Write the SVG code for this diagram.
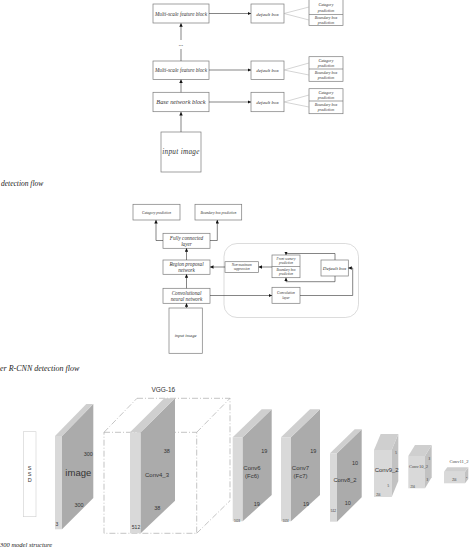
<svg xmlns="http://www.w3.org/2000/svg" width="474" height="548" viewBox="0 0 474 548">
<style>
.bx{fill:#fff;stroke:#7a7a7a;stroke-width:0.7}
.ln{fill:none;stroke:#333;stroke-width:0.6}
.lg{fill:none;stroke:#aaa;stroke-width:0.5}
.it{font-family:"Liberation Serif",serif;font-style:italic;fill:#333;text-anchor:middle}
.cap{font-family:"Liberation Serif",serif;font-style:italic;fill:#222}
.sn{font-family:"Liberation Sans",Arial,sans-serif;fill:#333;text-anchor:middle}
.fr{fill:#d9d9d9}
.sd{fill:#ababab}
.tp{fill:#cfcfcf}
.sd2{fill:#c2c2c2}
.dash{fill:none;stroke:#aaa;stroke-width:0.7;stroke-dasharray:6 2 1 2}
</style>
<defs>
<marker id="ah" viewBox="0 0 6 6" refX="6" refY="3" markerWidth="3.5" markerHeight="3.5" orient="auto" markerUnits="userSpaceOnUse">
<path d="M0,0 L6,3 L0,6 z" fill="#111"/>
</marker>
</defs>
<rect width="474" height="548" fill="#fff"/>

<!-- ===== Section 1 ===== -->
<g id="ms1"><rect class="bx" x="153" y="4" width="56" height="19"/><text class="it" x="181" y="15.5" font-size="5.2">Multi-scale feature block</text></g>
<g id="db1"><rect class="bx" x="251" y="4" width="33" height="19"/><text class="it" x="267.5" y="15.5" font-size="5">default box</text></g>
<g id="pp1"><rect class="bx" x="309" y="-1" width="34" height="26.5"/><line class="bx" x1="309" y1="14.5" x2="343" y2="14.5"/>
<text class="it" x="326" y="6" font-size="4">Category</text><text class="it" x="326" y="11.5" font-size="4">prediction</text>
<text class="it" x="326" y="19" font-size="4">Boundary box</text><text class="it" x="326" y="24" font-size="4">prediction</text></g>

<g id="ms2"><rect class="bx" x="153" y="61" width="56" height="18.5"/><text class="it" x="181" y="72" font-size="5.2">Multi-scale feature block</text></g>
<g id="db2"><rect class="bx" x="251" y="61" width="33" height="18.5"/><text class="it" x="267.5" y="72" font-size="5">default box</text></g>
<g id="pp2"><rect class="bx" x="309" y="56.7" width="34" height="24.6"/><line class="bx" x1="309" y1="69" x2="343" y2="69"/>
<text class="it" x="326" y="62" font-size="4">Category</text><text class="it" x="326" y="67.3" font-size="4">prediction</text>
<text class="it" x="326" y="74" font-size="4">Boundary box</text><text class="it" x="326" y="79.3" font-size="4">prediction</text></g>

<g id="bn"><rect class="bx" x="153" y="92.3" width="56" height="19.4"/><text class="it" x="181" y="104.3" font-size="6.3">Base network block</text></g>
<g id="db3"><rect class="bx" x="251" y="92.3" width="33" height="19.4"/><text class="it" x="267.5" y="104" font-size="5">default box</text></g>
<g id="pp3"><rect class="bx" x="309" y="88.7" width="34" height="25"/><line class="bx" x1="309" y1="101" x2="343" y2="101"/>
<text class="it" x="326" y="94" font-size="4">Category</text><text class="it" x="326" y="99.3" font-size="4">prediction</text>
<text class="it" x="326" y="106" font-size="4">Boundary box</text><text class="it" x="326" y="111.3" font-size="4">prediction</text></g>

<g id="in1"><rect class="bx" x="161" y="132" width="40" height="40"/><text class="it" x="181" y="154" font-size="7.2" letter-spacing="0.3">input  image</text></g>

<g id="conn1">
<line class="ln" x1="181" y1="132" x2="181" y2="112" marker-end="url(#ah)"/>
<line class="ln" x1="181" y1="92.3" x2="181" y2="79.5" marker-end="url(#ah)"/>
<line class="ln" x1="181" y1="61" x2="181" y2="49"/>
<line class="ln" x1="181" y1="40" x2="181" y2="23.3" marker-end="url(#ah)"/>
<text class="it" x="181" y="45.5" font-size="6">...</text>
<line class="ln" x1="209" y1="13.5" x2="251" y2="13.5" marker-end="url(#ah)"/>
<line class="ln" x1="209" y1="70" x2="251" y2="70" marker-end="url(#ah)"/>
<line class="ln" x1="209" y1="102" x2="251" y2="102" marker-end="url(#ah)"/>
<path class="lg" d="M284,13.5 L309,7 M284,13.5 L309,20"/>
<path class="lg" d="M284,70 L309,63 M284,70 L309,75"/>
<path class="lg" d="M284,102 L309,95 M284,102 L309,107"/>
</g>
<text class="cap" x="1" y="186" font-size="7.5">detection flow</text>

<!-- ===== Section 2 ===== -->
<g id="region"><rect x="224" y="243.5" width="134.5" height="74" rx="13" fill="none" stroke="#c4c4c4" stroke-width="0.6"/></g>
<g id="cat2"><rect class="bx" x="133" y="204.3" width="47" height="15.7"/><text class="it" x="156.5" y="213.5" font-size="3.6">Category prediction</text></g>
<g id="bbp2"><rect class="bx" x="195" y="204.3" width="46.7" height="15.7"/><text class="it" x="218.3" y="213.5" font-size="3.6">Boundary box prediction</text></g>
<g id="fc"><rect class="bx" x="163" y="233.3" width="47" height="15"/><text class="it" x="186.5" y="239.8" font-size="5.2">Fully connected</text><text class="it" x="186.5" y="246" font-size="5.2">layer</text></g>
<g id="rpn"><rect class="bx" x="163" y="260" width="47" height="14.3"/><text class="it" x="186.5" y="266" font-size="5.2">Region proposal</text><text class="it" x="186.5" y="272.2" font-size="5.2">network</text></g>
<g id="cnn"><rect class="bx" x="163" y="288.3" width="47" height="15"/><text class="it" x="186.5" y="294.8" font-size="5.2">Convolutional</text><text class="it" x="186.5" y="301" font-size="5.2">neural network</text></g>
<g id="nms"><rect class="bx" x="225" y="261.7" width="33.5" height="10.8"/><text class="it" x="241.7" y="266" font-size="3.4">Non-maximum</text><text class="it" x="241.7" y="270.4" font-size="3.4">suppression</text></g>
<g id="pair"><rect class="bx" x="272" y="255" width="28" height="22.7"/><line class="bx" x1="272" y1="266.5" x2="300" y2="266.5"/>
<text class="it" x="286" y="259.8" font-size="3.4">Front scenery</text><text class="it" x="286" y="264.2" font-size="3.4">prediction</text>
<text class="it" x="286" y="271" font-size="3.4">Boundary box</text><text class="it" x="286" y="275.4" font-size="3.4">prediction</text></g>
<g id="dflt"><rect class="bx" x="321" y="260" width="27.3" height="16"/><text class="it" x="334.6" y="269.8" font-size="5">Default box</text></g>
<g id="cl"><rect class="bx" x="272" y="287.3" width="28" height="16"/><text class="it" x="286" y="294" font-size="3.6">Convolution</text><text class="it" x="286" y="299" font-size="3.6">layer</text></g>
<g id="in2"><rect class="bx" x="169" y="308" width="33.3" height="45.3"/><text class="it" x="185.6" y="336.5" font-size="4.6">input  image</text></g>

<g id="conn2">
<path class="ln" d="M163,240.5 H156 V220" marker-end="url(#ah)"/>
<path class="ln" d="M210,240.5 H217.3 V220" marker-end="url(#ah)"/>
<line class="ln" x1="186.5" y1="260" x2="186.5" y2="248.3" marker-end="url(#ah)"/>
<line class="ln" x1="186.5" y1="288.3" x2="186.5" y2="274.3" marker-end="url(#ah)"/>
<line class="ln" x1="186.5" y1="308" x2="186.5" y2="303.3" marker-end="url(#ah)"/>
<line class="ln" x1="225" y1="267" x2="210" y2="267" marker-end="url(#ah)"/>
<line class="ln" x1="272" y1="267" x2="258.5" y2="267" marker-end="url(#ah)"/>
<path class="ln" d="M335,260 V253.5 H286 V255" marker-end="url(#ah)"/>
<path class="ln" d="M335,276 V281.7 H286 V277.7" marker-end="url(#ah)"/>
<line class="ln" x1="210" y1="295.5" x2="272" y2="295.5" marker-end="url(#ah)"/>
<path class="ln" d="M300,295.5 H352.7 V268 H348.3" marker-end="url(#ah)"/>
</g>
<text class="cap" x="0" y="371" font-size="8">er R-CNN detection flow</text>

<!-- ===== Section 3 ===== -->
<text class="sn" x="163.3" y="392" font-size="6.5" fill="#555">VGG-16</text>
<g id="ssd"><rect x="23.3" y="431.7" width="12.7" height="85" fill="#fff" stroke="#cfcfcf" stroke-width="0.6"/>
<text class="sn" x="29.7" y="469.5" font-size="5.5">S</text><text class="sn" x="29.7" y="475.5" font-size="5.5">S</text><text class="sn" x="29.7" y="481.5" font-size="5.5">D</text></g>

<g id="image">
<rect class="fr" x="55" y="436" width="7" height="93.3"/>
<polygon class="sd" points="62,436 93.3,404 93.3,498 62,529.3"/>
<polygon class="tp" points="55,436 62,436 93.3,404 86.3,404"/>
<text class="sn" x="88.3" y="456" font-size="5.5">300</text>
<text class="sn" x="78.3" y="476" font-size="9.5">image</text>
<text class="sn" x="79" y="506.5" font-size="5.5">300</text>
<text class="sn" x="57" y="526" font-size="5">3</text>
</g>

<g id="vgg">
<rect class="dash" x="104" y="432.3" width="92.7" height="101"/>
<path class="dash" d="M137,398.3 H230 V500.7 M196.7,432.3 L230,398.3 M196.7,533.3 L230,500.7 M104,432.3 L137,398.3"/>
</g>
<g id="conv4_3">
<rect class="fr" x="130" y="432.3" width="10.7" height="101"/>
<polygon class="sd" points="140.7,432.3 175,398.3 175,500.7 140.7,533.3"/>
<polygon class="tp" points="130,432.3 140.7,432.3 175,398.3 164.3,398.3"/>
<text class="sn" x="166.7" y="453" font-size="5.5">38</text>
<text class="sn" x="157" y="477" font-size="6">Conv4_3</text>
<text class="sn" x="157.3" y="510" font-size="5.5">38</text>
<text class="sn" x="136" y="529" font-size="5">512</text>
</g>

<g id="conv6">
<rect class="fr" x="232.7" y="437.3" width="10" height="84"/>
<polygon class="sd" points="242.7,437.3 271.7,409.3 271.7,495 242.7,521.3"/>
<polygon class="tp" points="232.7,437.3 242.7,437.3 271.7,409.3 261.7,409.3"/>
<text class="sn" x="264.3" y="453" font-size="5.5">19</text>
<text class="sn" x="252" y="469.5" font-size="6">Conv6</text>
<text class="sn" x="252" y="477.5" font-size="6">(Fc6)</text>
<text class="sn" x="256.7" y="505.5" font-size="5.5">19</text>
<text class="sn" x="237" y="522" font-size="2.8">1024</text>
</g>

<g id="conv7">
<rect class="fr" x="281" y="437.3" width="10" height="84"/>
<polygon class="sd" points="291,437.3 320,409.3 320,495 291,521.3"/>
<polygon class="tp" points="281,437.3 291,437.3 320,409.3 310,409.3"/>
<text class="sn" x="313.3" y="453" font-size="5.5">19</text>
<text class="sn" x="300.5" y="469.5" font-size="6">Conv7</text>
<text class="sn" x="300.5" y="477.5" font-size="6">(Fc7)</text>
<text class="sn" x="306" y="505.5" font-size="5.5">19</text>
<text class="sn" x="285.5" y="522" font-size="2.8">1024</text>
</g>

<g id="conv8_2">
<rect class="fr" x="330" y="453.3" width="7" height="68.4"/>
<polygon class="sd" points="337,453.3 361.7,429.3 361.7,497.3 337,521.7"/>
<polygon class="tp" points="330,453.3 337,453.3 361.7,429.3 354.7,429.3"/>
<text class="sn" x="355" y="464.5" font-size="5.5">10</text>
<text class="sn" x="345" y="482" font-size="5.8">Conv8_2</text>
<text class="sn" x="347.7" y="505" font-size="5.5">10</text>
<text class="sn" x="333.3" y="512" font-size="3.2">512</text>
</g>

<g id="conv9_2">
<rect class="fr" x="374" y="450" width="17.7" height="47"/>
<polygon class="sd2" points="391.7,450 398.3,434 398.3,481 391.7,497"/>
<polygon class="tp" points="374,450 391.7,450 398.3,434 380.7,434"/>
<text class="sn" x="386.7" y="472.3" font-size="6">Conv9_2</text>
<text class="sn" x="396" y="454" font-size="2.8">5</text>
<text class="sn" x="388.3" y="487" font-size="2.8">5</text>
<text class="sn" x="378.3" y="496" font-size="2.6">256</text>
</g>

<g id="conv10_2">
<rect class="fr" x="408.3" y="456" width="16.7" height="32.3"/>
<polygon class="sd2" points="425,456 431.7,445 431.7,477.3 425,488.3"/>
<polygon class="tp" points="408.3,456 425,456 431.7,445 415,445"/>
<text x="418.5" y="468" font-size="4.6" font-family="Liberation Serif,serif" fill="#444" text-anchor="middle">Conv10_2</text>
<text class="sn" x="429.3" y="459.5" font-size="2.8">3</text>
<text class="sn" x="427.3" y="480.5" font-size="2.8">3</text>
<text class="sn" x="412.7" y="487.5" font-size="2.6">256</text>
</g>

<g id="conv11_2">
<rect class="fr" x="444" y="471.7" width="21" height="11.6"/>
<polygon class="sd2" points="465,471.7 468.3,467.3 468.3,479 465,483.3"/>
<polygon class="tp" points="444,471.7 465,471.7 468.3,467.3 447.3,467.3"/>
<text x="459" y="463" font-size="4.6" font-family="Liberation Serif,serif" fill="#444" text-anchor="middle">Conv11_2</text>
<text class="sn" x="454.3" y="481" font-size="2.6">256</text>
<text class="sn" x="466.7" y="477.5" font-size="2.4">1</text>
</g>

<text class="cap" x="0" y="546.5" font-size="6.5">300    model structure</text>
</svg>
